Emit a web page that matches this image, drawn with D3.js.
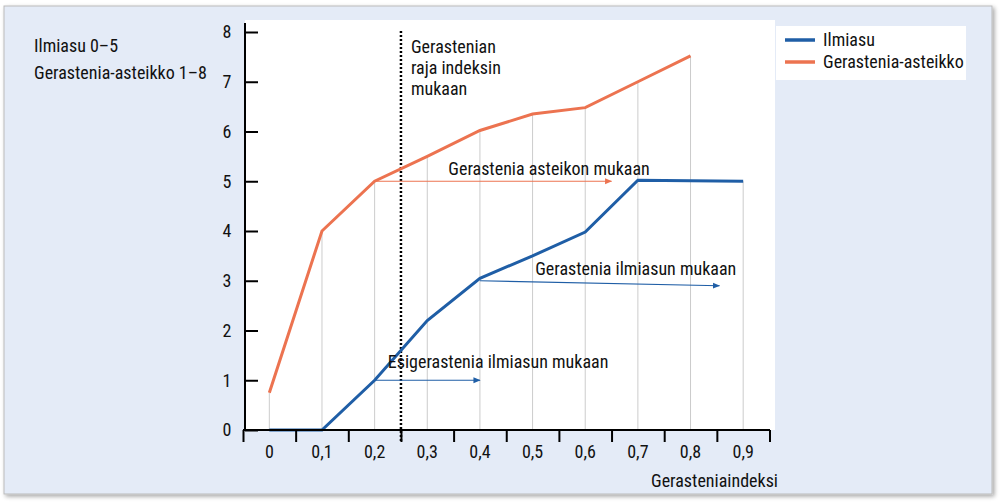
<!DOCTYPE html><html><head><meta charset="utf-8">
<script src="https://cdn.jsdelivr.net/npm/d3@7"></script>
<style>body{margin:0;background:#fff}svg{display:block}text{font-family:"Liberation Sans Narrow","Roboto Condensed","Liberation Sans",sans-serif;font-size:18px;fill:#111}</style>
</head><body><svg id="c" width="1000" height="503"></svg>
<script>
const xVals=[0,0.1,0.2,0.3,0.4,0.5,0.6,0.7,0.8,0.9];
const xTickLabels=["0","0,1","0,2","0,3","0,4","0,5","0,6","0,7","0,8","0,9"];
const orangeVals=[0.75,4,5,5.5,6.02,6.35,6.48,7.0,7.52];
const blueVals=[0,0,1,2.2,3.05,3.5,3.98,5.02,5.01,5.0];
const yTicks=[0,1,2,3,4,5,6,7,8];
const arrows=[
 {x1:0.2,y1:5,x2:0.65,y2:5,o:true,label:"Gerastenia asteikon mukaan",lx:0.34,ly:5.12},
 {x1:0.4,y1:3,x2:0.855,y2:2.9,o:false,label:"Gerastenia ilmiasun mukaan",lx:0.505,ly:3.12},
 {x1:0.2,y1:1,x2:0.4,y2:1,o:false,label:"Esigerastenia ilmiasun mukaan",lx:0.225,ly:1.25}];
const ORANGE="#ec7350",BLUE="#1f5ea6";
const svg=d3.select("#c");
const defs=svg.append("defs");
defs.append("filter").attr("id","sh").append("feDropShadow").attr("dx",2).attr("dy",2).attr("stdDeviation",2).attr("flood-opacity",0.35);
["o","b"].forEach((k,i)=>defs.append("marker").attr("id","m"+k).attr("viewBox","0 0 10 10").attr("refX",9).attr("refY",5)
 .attr("markerWidth",6).attr("markerHeight",6).attr("orient","auto").append("path").attr("d","M0,1L10,5L0,9Z").attr("fill",i?BLUE:ORANGE));
svg.append("rect").attr("x",4).attr("y",6).attr("width",988).attr("height",488).attr("fill","#e4ebf7").attr("stroke","#bbb").attr("filter","url(#sh)");
svg.append("rect").attr("x",245).attr("y",20).attr("width",530).attr("height",410).attr("fill","#fff");
const x=d3.scaleLinear().domain([-0.05,0.95]).range([243,769.5]);
const y=d3.scaleLinear().domain([0,8]).range([430,32]);
xVals.forEach((v,i)=>{const top=i<orangeVals.length?orangeVals[i]:blueVals[i];
 svg.append("line").attr("x1",x(v)).attr("x2",x(v)).attr("y1",y(0)).attr("y2",y(top)).attr("stroke","#ccc").attr("stroke-width",1);});
svg.append("line").attr("x1",x(0.25)).attr("x2",x(0.25)).attr("y1",31).attr("y2",442).attr("stroke","#000").attr("stroke-width",2.5).attr("stroke-dasharray","2,2");
svg.append("text").attr("x",x(0.25)+10).attr("y",53).selectAll("tspan").data(["Gerastenian","raja indeksin","mukaan"]).join("tspan")
 .attr("x",x(0.25)+10).attr("dy",(d,i)=>i?21:0).text(d=>d);
const line=d3.line().x((d,i)=>x(xVals[i])).y(d=>y(d));
svg.append("path").datum(orangeVals).attr("d",line).attr("fill","none").attr("stroke",ORANGE).attr("stroke-width",3);
svg.append("path").datum(blueVals).attr("d",line).attr("fill","none").attr("stroke",BLUE).attr("stroke-width",3);
arrows.forEach(a=>{svg.append("line").attr("x1",x(a.x1)).attr("y1",y(a.y1)).attr("x2",x(a.x2)).attr("y2",y(a.y2))
 .attr("stroke",a.o?ORANGE:BLUE).attr("stroke-width",1.2).attr("marker-end",a.o?"url(#mo)":"url(#mb)");
 svg.append("text").attr("x",x(a.lx)).attr("y",y(a.ly)).attr("font-size",17).text(a.label);});
const ya=svg.append("g").attr("transform","translate(245,0)").call(d3.axisRight(y).tickValues(yTicks).tickSize(13).tickFormat(d=>d));
ya.selectAll("text").attr("x",-18).attr("text-anchor","middle").attr("font-size",19).attr("fill","#111");
ya.select(".domain").attr("d","M0,23V430").attr("stroke-width",2);
ya.selectAll(".tick line").attr("stroke-width",2);
const xa=svg.append("g").attr("transform","translate(0,430)").call(d3.axisBottom(x).tickValues(d3.range(11).map(i=>-0.05+i*0.1)).tickSize(12).tickFormat(""));
xa.select(".domain").attr("d","M243,0H770").attr("stroke-width",2);
xa.selectAll(".tick line").attr("stroke-width",2);
xVals.forEach((v,i)=>svg.append("text").attr("x",x(v)).attr("y",458).attr("text-anchor","middle").attr("font-size",19).text(xTickLabels[i]));
svg.append("text").attr("x",778).attr("y",487).attr("text-anchor","end").attr("font-size",20).text("Gerasteniaindeksi");
svg.append("text").attr("x",34).attr("y",52).attr("font-size",19).text("Ilmiasu 0–5");
svg.append("text").attr("x",34).attr("y",79).attr("font-size",19).text("Gerastenia-asteikko 1–8");
svg.append("rect").attr("x",776).attr("y",26).attr("width",190).attr("height",54).attr("fill","#fff");
[["Ilmiasu",BLUE],["Gerastenia-asteikko",ORANGE]].forEach((d,i)=>{
 svg.append("line").attr("x1",785).attr("x2",815).attr("y1",40+i*22).attr("y2",40+i*22).attr("stroke",d[1]).attr("stroke-width",3.5);
 svg.append("text").attr("x",823).attr("y",46+i*22).attr("font-size",19).text(d[0]);});
</script></body></html>
